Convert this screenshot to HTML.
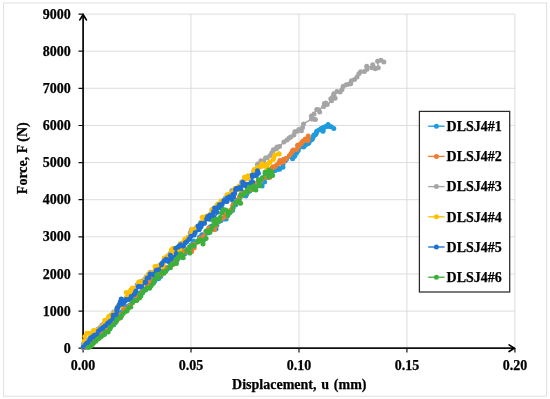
<!DOCTYPE html>
<html lang="en"><head><meta charset="utf-8"><title>Force vs Displacement</title>
<style>html,body{margin:0;padding:0;background:#fff}body{width:550px;height:399px;overflow:hidden}svg{display:block}text{font-family:"Liberation Serif",serif;font-weight:bold;font-size:14px;fill:#000;stroke:#000;stroke-width:0.25px}</style></head><body>
<svg width="550" height="399" viewBox="0 0 550 399">
<rect x="0" y="0" width="550" height="399" fill="#fff"/>
<rect x="3.5" y="3" width="543.1" height="393.2" fill="none" stroke="#E2E2E2" stroke-width="1.1"/>
<path d="M83.1 311.1H514.9M83.1 274.0H514.9M83.1 236.8H514.9M83.1 199.7H514.9M83.1 162.6H514.9M83.1 125.5H514.9M83.1 88.3H514.9M83.1 51.2H514.9M83.1 14.1H514.9M191.0 14.1V348.2M299.0 14.1V348.2M406.9 14.1V348.2M514.9 14.1V348.2" stroke="#D9D9D9" stroke-width="0.9" fill="none"/>
<path d="M78.5 348.2H83.1M78.5 311.1H83.1M78.5 274.0H83.1M78.5 236.8H83.1M78.5 199.7H83.1M78.5 162.6H83.1M78.5 125.5H83.1M78.5 88.3H83.1M78.5 51.2H83.1M78.5 14.1H83.1M83.1 348.2V352.6M191.0 348.2V352.6M299.0 348.2V352.6M406.9 348.2V352.6M514.9 348.2V352.6" stroke="#111" stroke-width="1.2" fill="none"/>
<path d="M83.1 14.6V348.2H514.4" stroke="#111" stroke-width="1.8" fill="none" stroke-linejoin="miter"/>
<path d="M79.8 19.9L83.1 14.7L86.4 19.9" stroke="#000" stroke-width="1.7" fill="none" stroke-linecap="round" stroke-linejoin="miter"/>
<path d="M509.1 344.9L514.3 348.2L509.1 351.5" stroke="#000" stroke-width="1.7" fill="none" stroke-linecap="round" stroke-linejoin="miter"/>
<g fill="#1E9BDC" stroke="none"><path d="M83.3 347.7L85.2 347.4L86.5 346.4L88.4 344.4L89.4 343.9L90.9 342.9L93.1 341.1L93.3 340.5L95.6 339.1L96.6 339.1L98.1 338.1L99.1 337.0L100.5 335.9L102.5 333.7L104.4 334.2L105.8 331.7L107.9 327.9L108.0 326.4L110.2 324.4L112.0 324.3L113.8 324.7L115.0 322.8L115.7 319.3L117.8 317.7L120.5 317.5L121.0 314.9L120.7 312.3L123.3 310.3L124.0 308.3L127.1 306.6L129.5 305.3L132.2 302.8L133.7 297.9L134.7 296.4L136.5 296.2L137.8 294.4L138.8 293.5L141.6 291.3L143.6 290.4L145.6 290.0L147.0 284.4L149.1 286.8L149.9 284.5L150.4 281.8L152.6 280.5L153.0 281.7L154.3 281.7L155.0 280.4L158.5 278.7L158.9 278.0L160.7 276.5L161.6 273.7L163.1 270.6L166.4 268.3L166.7 267.8L167.2 269.2L170.4 265.8L172.4 264.2L173.2 261.0L175.3 262.9L177.0 260.5L180.0 257.3L181.7 255.6L181.0 251.3L183.7 252.2L184.9 253.8L186.3 251.8L189.3 251.5L189.2 247.1L191.4 247.8L191.6 244.8L193.5 241.1L193.8 243.7L197.6 241.8L199.4 239.4L199.4 237.3L201.8 234.7L202.5 235.1L207.1 231.0L207.8 233.0L209.9 231.0L209.8 227.0L211.8 226.0L213.3 226.4L216.0 229.0L216.8 225.3L217.2 221.5L218.7 221.6L220.7 220.8L221.2 220.0L224.4 219.0L226.2 219.0L225.6 215.6L226.5 216.1L228.4 213.7L228.6 211.6L232.5 210.6L233.1 205.3L235.5 205.0L235.8 202.8L237.6 200.3L238.4 200.9L239.7 202.9L242.0 196.0L243.3 195.6L245.8 195.9L246.7 194.1L249.7 190.9L249.8 190.6L250.7 189.7L251.3 187.7L252.7 187.7L255.9 187.1L259.0 185.7L259.5 184.8L260.3 184.7L262.1 186.0L264.6 182.0L266.2 177.6L267.7 174.8L268.1 176.8L271.8 173.1L270.6 174.1L272.9 171.0L275.1 170.5L275.9 169.3L277.7 169.2L279.0 168.3L279.6 169.3L282.9 167.3L282.9 164.4L285.2 160.8L286.2 159.0L286.5 159.1L290.3 156.6L292.5 158.8L294.4 156.4L295.2 154.9L296.8 152.6L298.2 150.6L302.9 146.6L302.9 146.4L303.5 147.0L304.3 146.0L306.1 144.4L307.9 143.4L308.8 143.1L309.3 141.5L311.0 140.0L312.3 139.2L313.2 136.9L313.8 134.9L315.4 134.7L316.3 133.3L316.7 131.2L318.9 129.9L321.1 128.6L322.7 130.6L323.0 131.2L323.3 129.1L323.7 127.3L326.1 126.6L326.3 126.4L328.1 124.6L329.4 126.4L331.3 126.7L333.8 128.6" fill="none" stroke="#1E9BDC" stroke-width="1.5" stroke-linejoin="round"/>
<circle cx="83.3" cy="347.7" r="2.5"/><circle cx="85.2" cy="347.4" r="2.5"/><circle cx="86.5" cy="346.4" r="2.5"/><circle cx="88.4" cy="344.4" r="2.5"/><circle cx="89.4" cy="343.9" r="2.5"/><circle cx="90.9" cy="342.9" r="2.5"/><circle cx="93.1" cy="341.1" r="2.5"/><circle cx="93.3" cy="340.5" r="2.5"/><circle cx="95.6" cy="339.1" r="2.5"/><circle cx="96.6" cy="339.1" r="2.5"/><circle cx="98.1" cy="338.1" r="2.5"/><circle cx="99.1" cy="337.0" r="2.5"/><circle cx="100.5" cy="335.9" r="2.5"/><circle cx="102.5" cy="333.7" r="2.5"/><circle cx="104.4" cy="334.2" r="2.5"/><circle cx="105.8" cy="331.7" r="2.5"/><circle cx="107.9" cy="327.9" r="2.5"/><circle cx="108.0" cy="326.4" r="2.5"/><circle cx="110.2" cy="324.4" r="2.5"/><circle cx="112.0" cy="324.3" r="2.5"/><circle cx="113.8" cy="324.7" r="2.5"/><circle cx="115.0" cy="322.8" r="2.5"/><circle cx="115.7" cy="319.3" r="2.5"/><circle cx="117.8" cy="317.7" r="2.5"/><circle cx="120.5" cy="317.5" r="2.5"/><circle cx="121.0" cy="314.9" r="2.5"/><circle cx="120.7" cy="312.3" r="2.5"/><circle cx="123.3" cy="310.3" r="2.5"/><circle cx="124.0" cy="308.3" r="2.5"/><circle cx="127.1" cy="306.6" r="2.5"/><circle cx="129.5" cy="305.3" r="2.5"/><circle cx="132.2" cy="302.8" r="2.5"/><circle cx="133.7" cy="297.9" r="2.5"/><circle cx="134.7" cy="296.4" r="2.5"/><circle cx="136.5" cy="296.2" r="2.5"/><circle cx="137.8" cy="294.4" r="2.5"/><circle cx="138.8" cy="293.5" r="2.5"/><circle cx="141.6" cy="291.3" r="2.5"/><circle cx="143.6" cy="290.4" r="2.5"/><circle cx="145.6" cy="290.0" r="2.5"/><circle cx="147.0" cy="284.4" r="2.5"/><circle cx="149.1" cy="286.8" r="2.5"/><circle cx="149.9" cy="284.5" r="2.5"/><circle cx="150.4" cy="281.8" r="2.5"/><circle cx="152.6" cy="280.5" r="2.5"/><circle cx="153.0" cy="281.7" r="2.5"/><circle cx="154.3" cy="281.7" r="2.5"/><circle cx="155.0" cy="280.4" r="2.5"/><circle cx="158.5" cy="278.7" r="2.5"/><circle cx="158.9" cy="278.0" r="2.5"/><circle cx="160.7" cy="276.5" r="2.5"/><circle cx="161.6" cy="273.7" r="2.5"/><circle cx="163.1" cy="270.6" r="2.5"/><circle cx="166.4" cy="268.3" r="2.5"/><circle cx="166.7" cy="267.8" r="2.5"/><circle cx="167.2" cy="269.2" r="2.5"/><circle cx="170.4" cy="265.8" r="2.5"/><circle cx="172.4" cy="264.2" r="2.5"/><circle cx="173.2" cy="261.0" r="2.5"/><circle cx="175.3" cy="262.9" r="2.5"/><circle cx="177.0" cy="260.5" r="2.5"/><circle cx="180.0" cy="257.3" r="2.5"/><circle cx="181.7" cy="255.6" r="2.5"/><circle cx="181.0" cy="251.3" r="2.5"/><circle cx="183.7" cy="252.2" r="2.5"/><circle cx="184.9" cy="253.8" r="2.5"/><circle cx="186.3" cy="251.8" r="2.5"/><circle cx="189.3" cy="251.5" r="2.5"/><circle cx="189.2" cy="247.1" r="2.5"/><circle cx="191.4" cy="247.8" r="2.5"/><circle cx="191.6" cy="244.8" r="2.5"/><circle cx="193.5" cy="241.1" r="2.5"/><circle cx="193.8" cy="243.7" r="2.5"/><circle cx="197.6" cy="241.8" r="2.5"/><circle cx="199.4" cy="239.4" r="2.5"/><circle cx="199.4" cy="237.3" r="2.5"/><circle cx="201.8" cy="234.7" r="2.5"/><circle cx="202.5" cy="235.1" r="2.5"/><circle cx="207.1" cy="231.0" r="2.5"/><circle cx="207.8" cy="233.0" r="2.5"/><circle cx="209.9" cy="231.0" r="2.5"/><circle cx="209.8" cy="227.0" r="2.5"/><circle cx="211.8" cy="226.0" r="2.5"/><circle cx="213.3" cy="226.4" r="2.5"/><circle cx="216.0" cy="229.0" r="2.5"/><circle cx="216.8" cy="225.3" r="2.5"/><circle cx="217.2" cy="221.5" r="2.5"/><circle cx="218.7" cy="221.6" r="2.5"/><circle cx="220.7" cy="220.8" r="2.5"/><circle cx="221.2" cy="220.0" r="2.5"/><circle cx="224.4" cy="219.0" r="2.5"/><circle cx="226.2" cy="219.0" r="2.5"/><circle cx="225.6" cy="215.6" r="2.5"/><circle cx="226.5" cy="216.1" r="2.5"/><circle cx="228.4" cy="213.7" r="2.5"/><circle cx="228.6" cy="211.6" r="2.5"/><circle cx="232.5" cy="210.6" r="2.5"/><circle cx="233.1" cy="205.3" r="2.5"/><circle cx="235.5" cy="205.0" r="2.5"/><circle cx="235.8" cy="202.8" r="2.5"/><circle cx="237.6" cy="200.3" r="2.5"/><circle cx="238.4" cy="200.9" r="2.5"/><circle cx="239.7" cy="202.9" r="2.5"/><circle cx="242.0" cy="196.0" r="2.5"/><circle cx="243.3" cy="195.6" r="2.5"/><circle cx="245.8" cy="195.9" r="2.5"/><circle cx="246.7" cy="194.1" r="2.5"/><circle cx="249.7" cy="190.9" r="2.5"/><circle cx="249.8" cy="190.6" r="2.5"/><circle cx="250.7" cy="189.7" r="2.5"/><circle cx="251.3" cy="187.7" r="2.5"/><circle cx="252.7" cy="187.7" r="2.5"/><circle cx="255.9" cy="187.1" r="2.5"/><circle cx="259.0" cy="185.7" r="2.5"/><circle cx="259.5" cy="184.8" r="2.5"/><circle cx="260.3" cy="184.7" r="2.5"/><circle cx="262.1" cy="186.0" r="2.5"/><circle cx="264.6" cy="182.0" r="2.5"/><circle cx="266.2" cy="177.6" r="2.5"/><circle cx="267.7" cy="174.8" r="2.5"/><circle cx="268.1" cy="176.8" r="2.5"/><circle cx="271.8" cy="173.1" r="2.5"/><circle cx="270.6" cy="174.1" r="2.5"/><circle cx="272.9" cy="171.0" r="2.5"/><circle cx="275.1" cy="170.5" r="2.5"/><circle cx="275.9" cy="169.3" r="2.5"/><circle cx="277.7" cy="169.2" r="2.5"/><circle cx="279.0" cy="168.3" r="2.5"/><circle cx="279.6" cy="169.3" r="2.5"/><circle cx="282.9" cy="167.3" r="2.5"/><circle cx="282.9" cy="164.4" r="2.5"/><circle cx="285.2" cy="160.8" r="2.5"/><circle cx="286.2" cy="159.0" r="2.5"/><circle cx="286.5" cy="159.1" r="2.5"/><circle cx="290.3" cy="156.6" r="2.5"/><circle cx="292.5" cy="158.8" r="2.5"/><circle cx="294.4" cy="156.4" r="2.5"/><circle cx="295.2" cy="154.9" r="2.5"/><circle cx="296.8" cy="152.6" r="2.5"/><circle cx="298.2" cy="150.6" r="2.5"/><circle cx="302.9" cy="146.6" r="2.5"/><circle cx="302.9" cy="146.4" r="2.5"/><circle cx="303.5" cy="147.0" r="2.5"/><circle cx="304.3" cy="146.0" r="2.5"/><circle cx="306.1" cy="144.4" r="2.5"/><circle cx="307.9" cy="143.4" r="2.5"/><circle cx="308.8" cy="143.1" r="2.5"/><circle cx="309.3" cy="141.5" r="2.5"/><circle cx="311.0" cy="140.0" r="2.5"/><circle cx="312.3" cy="139.2" r="2.5"/><circle cx="313.2" cy="136.9" r="2.5"/><circle cx="313.8" cy="134.9" r="2.5"/><circle cx="315.4" cy="134.7" r="2.5"/><circle cx="316.3" cy="133.3" r="2.5"/><circle cx="316.7" cy="131.2" r="2.5"/><circle cx="318.9" cy="129.9" r="2.5"/><circle cx="321.1" cy="128.6" r="2.5"/><circle cx="322.7" cy="130.6" r="2.5"/><circle cx="323.0" cy="131.2" r="2.5"/><circle cx="323.3" cy="129.1" r="2.5"/><circle cx="323.7" cy="127.3" r="2.5"/><circle cx="326.1" cy="126.6" r="2.5"/><circle cx="326.3" cy="126.4" r="2.5"/><circle cx="328.1" cy="124.6" r="2.5"/><circle cx="329.4" cy="126.4" r="2.5"/><circle cx="331.3" cy="126.7" r="2.5"/><circle cx="333.8" cy="128.6" r="2.5"/>
</g>
<g fill="#ED7D31" stroke="none"><path d="M83.3 347.5L84.8 346.9L86.1 346.1L87.6 344.3L88.8 343.3L91.8 342.6L92.4 341.4L94.0 340.8L94.6 339.7L96.5 339.0L97.6 337.5L99.8 336.4L100.9 335.3L102.9 333.1L103.7 331.3L106.9 331.4L107.8 329.6L110.5 327.1L111.3 324.1L113.4 323.7L116.2 320.7L117.1 317.7L119.1 318.5L120.2 314.7L121.8 315.5L123.9 311.4L123.8 308.8L128.9 306.8L129.8 306.0L132.5 302.5L132.8 301.8L131.9 303.0L135.4 299.1L136.4 300.0L138.5 296.1L139.1 296.5L141.5 293.0L143.1 290.7L144.5 289.3L147.0 286.8L147.2 285.4L149.3 282.4L151.1 282.3L153.1 278.0L154.3 275.0L156.6 276.0L158.6 275.9L159.1 273.6L161.8 274.0L162.7 271.6L164.7 270.2L165.7 269.7L164.7 268.4L170.1 265.8L171.0 264.3L173.2 264.6L173.1 259.8L175.9 260.8L176.0 259.9L177.5 257.5L177.4 257.9L179.4 255.9L183.3 253.2L182.2 252.0L183.5 251.6L187.0 251.8L185.0 251.6L188.2 248.7L191.6 251.5L190.7 248.1L194.1 247.9L194.0 244.5L197.0 242.3L198.1 241.1L200.1 238.6L199.7 239.0L203.0 236.9L204.5 235.7L205.8 231.7L207.9 231.0L208.7 228.0L211.1 229.5L214.4 229.7L215.4 225.9L215.6 224.0L216.9 223.2L219.6 218.6L221.4 218.5L222.7 217.9L225.8 216.4L225.4 215.1L227.0 214.4L229.9 210.7L231.3 209.6L232.7 206.1L233.6 202.8L238.0 202.6L238.7 200.5L237.6 200.7L239.3 196.9L241.3 196.1L241.4 191.2L245.0 192.8L247.4 189.5L247.6 188.9L250.9 189.6L252.1 187.7L254.4 183.5L256.3 183.7L258.9 181.0L260.7 180.8L262.0 178.7L265.3 176.7L266.0 177.2L268.2 176.6L269.7 177.6L269.8 172.6L271.9 168.1L273.3 166.8L274.6 167.0L276.7 165.0L278.8 163.0L279.9 160.6L281.0 163.0L283.5 161.5L283.6 159.3L286.0 158.5L286.1 158.7L289.4 155.6L291.2 153.3L292.5 151.0L293.2 150.1L296.5 149.4L297.6 145.2L298.3 146.4L298.9 145.1L300.9 143.9L302.0 142.3L303.1 140.9L305.3 139.1L306.8 139.9L307.9 140.4L308.2 138.2L308.3 136.1" fill="none" stroke="#ED7D31" stroke-width="1.5" stroke-linejoin="round"/>
<circle cx="83.3" cy="347.5" r="2.5"/><circle cx="84.8" cy="346.9" r="2.5"/><circle cx="86.1" cy="346.1" r="2.5"/><circle cx="87.6" cy="344.3" r="2.5"/><circle cx="88.8" cy="343.3" r="2.5"/><circle cx="91.8" cy="342.6" r="2.5"/><circle cx="92.4" cy="341.4" r="2.5"/><circle cx="94.0" cy="340.8" r="2.5"/><circle cx="94.6" cy="339.7" r="2.5"/><circle cx="96.5" cy="339.0" r="2.5"/><circle cx="97.6" cy="337.5" r="2.5"/><circle cx="99.8" cy="336.4" r="2.5"/><circle cx="100.9" cy="335.3" r="2.5"/><circle cx="102.9" cy="333.1" r="2.5"/><circle cx="103.7" cy="331.3" r="2.5"/><circle cx="106.9" cy="331.4" r="2.5"/><circle cx="107.8" cy="329.6" r="2.5"/><circle cx="110.5" cy="327.1" r="2.5"/><circle cx="111.3" cy="324.1" r="2.5"/><circle cx="113.4" cy="323.7" r="2.5"/><circle cx="116.2" cy="320.7" r="2.5"/><circle cx="117.1" cy="317.7" r="2.5"/><circle cx="119.1" cy="318.5" r="2.5"/><circle cx="120.2" cy="314.7" r="2.5"/><circle cx="121.8" cy="315.5" r="2.5"/><circle cx="123.9" cy="311.4" r="2.5"/><circle cx="123.8" cy="308.8" r="2.5"/><circle cx="128.9" cy="306.8" r="2.5"/><circle cx="129.8" cy="306.0" r="2.5"/><circle cx="132.5" cy="302.5" r="2.5"/><circle cx="132.8" cy="301.8" r="2.5"/><circle cx="131.9" cy="303.0" r="2.5"/><circle cx="135.4" cy="299.1" r="2.5"/><circle cx="136.4" cy="300.0" r="2.5"/><circle cx="138.5" cy="296.1" r="2.5"/><circle cx="139.1" cy="296.5" r="2.5"/><circle cx="141.5" cy="293.0" r="2.5"/><circle cx="143.1" cy="290.7" r="2.5"/><circle cx="144.5" cy="289.3" r="2.5"/><circle cx="147.0" cy="286.8" r="2.5"/><circle cx="147.2" cy="285.4" r="2.5"/><circle cx="149.3" cy="282.4" r="2.5"/><circle cx="151.1" cy="282.3" r="2.5"/><circle cx="153.1" cy="278.0" r="2.5"/><circle cx="154.3" cy="275.0" r="2.5"/><circle cx="156.6" cy="276.0" r="2.5"/><circle cx="158.6" cy="275.9" r="2.5"/><circle cx="159.1" cy="273.6" r="2.5"/><circle cx="161.8" cy="274.0" r="2.5"/><circle cx="162.7" cy="271.6" r="2.5"/><circle cx="164.7" cy="270.2" r="2.5"/><circle cx="165.7" cy="269.7" r="2.5"/><circle cx="164.7" cy="268.4" r="2.5"/><circle cx="170.1" cy="265.8" r="2.5"/><circle cx="171.0" cy="264.3" r="2.5"/><circle cx="173.2" cy="264.6" r="2.5"/><circle cx="173.1" cy="259.8" r="2.5"/><circle cx="175.9" cy="260.8" r="2.5"/><circle cx="176.0" cy="259.9" r="2.5"/><circle cx="177.5" cy="257.5" r="2.5"/><circle cx="177.4" cy="257.9" r="2.5"/><circle cx="179.4" cy="255.9" r="2.5"/><circle cx="183.3" cy="253.2" r="2.5"/><circle cx="182.2" cy="252.0" r="2.5"/><circle cx="183.5" cy="251.6" r="2.5"/><circle cx="187.0" cy="251.8" r="2.5"/><circle cx="185.0" cy="251.6" r="2.5"/><circle cx="188.2" cy="248.7" r="2.5"/><circle cx="191.6" cy="251.5" r="2.5"/><circle cx="190.7" cy="248.1" r="2.5"/><circle cx="194.1" cy="247.9" r="2.5"/><circle cx="194.0" cy="244.5" r="2.5"/><circle cx="197.0" cy="242.3" r="2.5"/><circle cx="198.1" cy="241.1" r="2.5"/><circle cx="200.1" cy="238.6" r="2.5"/><circle cx="199.7" cy="239.0" r="2.5"/><circle cx="203.0" cy="236.9" r="2.5"/><circle cx="204.5" cy="235.7" r="2.5"/><circle cx="205.8" cy="231.7" r="2.5"/><circle cx="207.9" cy="231.0" r="2.5"/><circle cx="208.7" cy="228.0" r="2.5"/><circle cx="211.1" cy="229.5" r="2.5"/><circle cx="214.4" cy="229.7" r="2.5"/><circle cx="215.4" cy="225.9" r="2.5"/><circle cx="215.6" cy="224.0" r="2.5"/><circle cx="216.9" cy="223.2" r="2.5"/><circle cx="219.6" cy="218.6" r="2.5"/><circle cx="221.4" cy="218.5" r="2.5"/><circle cx="222.7" cy="217.9" r="2.5"/><circle cx="225.8" cy="216.4" r="2.5"/><circle cx="225.4" cy="215.1" r="2.5"/><circle cx="227.0" cy="214.4" r="2.5"/><circle cx="229.9" cy="210.7" r="2.5"/><circle cx="231.3" cy="209.6" r="2.5"/><circle cx="232.7" cy="206.1" r="2.5"/><circle cx="233.6" cy="202.8" r="2.5"/><circle cx="238.0" cy="202.6" r="2.5"/><circle cx="238.7" cy="200.5" r="2.5"/><circle cx="237.6" cy="200.7" r="2.5"/><circle cx="239.3" cy="196.9" r="2.5"/><circle cx="241.3" cy="196.1" r="2.5"/><circle cx="241.4" cy="191.2" r="2.5"/><circle cx="245.0" cy="192.8" r="2.5"/><circle cx="247.4" cy="189.5" r="2.5"/><circle cx="247.6" cy="188.9" r="2.5"/><circle cx="250.9" cy="189.6" r="2.5"/><circle cx="252.1" cy="187.7" r="2.5"/><circle cx="254.4" cy="183.5" r="2.5"/><circle cx="256.3" cy="183.7" r="2.5"/><circle cx="258.9" cy="181.0" r="2.5"/><circle cx="260.7" cy="180.8" r="2.5"/><circle cx="262.0" cy="178.7" r="2.5"/><circle cx="265.3" cy="176.7" r="2.5"/><circle cx="266.0" cy="177.2" r="2.5"/><circle cx="268.2" cy="176.6" r="2.5"/><circle cx="269.7" cy="177.6" r="2.5"/><circle cx="269.8" cy="172.6" r="2.5"/><circle cx="271.9" cy="168.1" r="2.5"/><circle cx="273.3" cy="166.8" r="2.5"/><circle cx="274.6" cy="167.0" r="2.5"/><circle cx="276.7" cy="165.0" r="2.5"/><circle cx="278.8" cy="163.0" r="2.5"/><circle cx="279.9" cy="160.6" r="2.5"/><circle cx="281.0" cy="163.0" r="2.5"/><circle cx="283.5" cy="161.5" r="2.5"/><circle cx="283.6" cy="159.3" r="2.5"/><circle cx="286.0" cy="158.5" r="2.5"/><circle cx="286.1" cy="158.7" r="2.5"/><circle cx="289.4" cy="155.6" r="2.5"/><circle cx="291.2" cy="153.3" r="2.5"/><circle cx="292.5" cy="151.0" r="2.5"/><circle cx="293.2" cy="150.1" r="2.5"/><circle cx="296.5" cy="149.4" r="2.5"/><circle cx="297.6" cy="145.2" r="2.5"/><circle cx="298.3" cy="146.4" r="2.5"/><circle cx="298.9" cy="145.1" r="2.5"/><circle cx="300.9" cy="143.9" r="2.5"/><circle cx="302.0" cy="142.3" r="2.5"/><circle cx="303.1" cy="140.9" r="2.5"/><circle cx="305.3" cy="139.1" r="2.5"/><circle cx="306.8" cy="139.9" r="2.5"/><circle cx="307.9" cy="140.4" r="2.5"/><circle cx="308.2" cy="138.2" r="2.5"/><circle cx="308.3" cy="136.1" r="2.5"/>
</g>
<g fill="#A5A5A5" stroke="none"><path d="M83.3 344.0L84.4 342.9L86.4 341.2L87.2 340.0L88.8 339.4L90.7 336.4L92.0 334.6L94.8 332.6L96.0 331.3L97.6 329.3L100.0 327.5L101.8 325.3L103.9 323.4L105.1 322.7L106.2 322.4L107.7 319.5L108.8 317.8L112.6 314.8L113.7 312.1L117.2 309.8L117.5 307.9L119.1 304.7L122.0 303.3L122.0 300.3L122.5 299.7L126.0 299.9L125.8 298.5L129.1 295.1L130.2 293.1L132.6 291.9L133.1 290.3L135.0 288.8L137.4 286.4L137.0 284.8L138.8 283.5L141.2 281.3L144.1 279.9L145.1 278.7L146.2 277.1L147.2 276.7L148.5 274.3L150.2 272.3L153.3 272.2L155.5 269.9L155.7 268.0L157.4 266.2L159.2 265.7L162.6 264.1L163.1 261.7L165.4 260.0L166.7 258.6L167.3 256.2L170.1 256.4L170.0 253.6L172.7 250.6L174.9 250.7L176.6 250.3L177.3 248.1L180.2 244.6L181.6 243.9L182.4 242.9L185.4 240.3L189.4 237.3L191.0 233.5L190.2 232.7L191.3 229.8L193.5 229.8L194.8 228.9L197.3 229.4L199.9 225.2L201.5 222.5L200.8 222.4L201.0 222.2L204.2 220.7L205.1 218.3L208.4 216.4L210.8 215.2L212.8 213.7L211.9 209.8L214.1 208.3L214.9 208.6L218.1 207.0L219.2 205.5L221.4 203.4L222.4 201.3L223.4 200.7L225.8 197.9L225.3 198.1L228.6 195.9L228.3 195.1L231.4 192.6L231.8 190.6L233.2 190.7L236.0 189.8L238.6 188.6L240.8 186.7L242.0 183.4L241.6 182.1L243.0 181.4L245.3 178.3L248.6 176.7L249.6 177.9L250.0 178.2L251.8 175.4L255.0 172.1L256.7 170.4L257.4 165.0L257.8 164.1L260.3 163.6L260.9 160.7L263.4 161.7L263.6 160.9L265.5 158.1L267.2 157.7L270.1 155.6L271.8 152.8L272.5 152.7L273.4 149.8L277.0 147.9L275.8 148.9L277.0 147.1L279.5 146.4L283.9 142.0L287.0 140.1L289.1 137.9L290.8 137.0L293.9 135.1L294.8 131.7L297.1 131.3L298.9 129.4L301.4 130.7L302.6 127.5L303.5 123.9L311.4 119.1L313.7 119.0L315.4 119.6L311.4 116.1L314.0 113.9L316.7 109.5L319.7 112.1L318.6 109.8L323.7 106.4L324.4 103.6L325.9 102.9L327.2 104.6L331.6 100.7L330.8 98.7L332.9 96.8L335.1 98.2L333.9 95.8L333.8 93.8L336.9 91.6L340.1 91.9L342.0 89.4L343.2 86.3L346.3 84.8L349.2 83.9L350.7 83.8L351.4 80.7L354.5 79.4L357.0 76.9L358.9 73.8L360.6 71.8L364.4 71.4L367.0 69.2L366.7 66.2L371.9 67.7L372.7 64.7L373.9 67.5L375.3 68.8L378.3 67.7L377.6 61.3L380.9 60.2L383.9 62.0" fill="none" stroke="#A5A5A5" stroke-width="1.5" stroke-linejoin="round"/>
<circle cx="83.3" cy="344.0" r="2.5"/><circle cx="84.4" cy="342.9" r="2.5"/><circle cx="86.4" cy="341.2" r="2.5"/><circle cx="87.2" cy="340.0" r="2.5"/><circle cx="88.8" cy="339.4" r="2.5"/><circle cx="90.7" cy="336.4" r="2.5"/><circle cx="92.0" cy="334.6" r="2.5"/><circle cx="94.8" cy="332.6" r="2.5"/><circle cx="96.0" cy="331.3" r="2.5"/><circle cx="97.6" cy="329.3" r="2.5"/><circle cx="100.0" cy="327.5" r="2.5"/><circle cx="101.8" cy="325.3" r="2.5"/><circle cx="103.9" cy="323.4" r="2.5"/><circle cx="105.1" cy="322.7" r="2.5"/><circle cx="106.2" cy="322.4" r="2.5"/><circle cx="107.7" cy="319.5" r="2.5"/><circle cx="108.8" cy="317.8" r="2.5"/><circle cx="112.6" cy="314.8" r="2.5"/><circle cx="113.7" cy="312.1" r="2.5"/><circle cx="117.2" cy="309.8" r="2.5"/><circle cx="117.5" cy="307.9" r="2.5"/><circle cx="119.1" cy="304.7" r="2.5"/><circle cx="122.0" cy="303.3" r="2.5"/><circle cx="122.0" cy="300.3" r="2.5"/><circle cx="122.5" cy="299.7" r="2.5"/><circle cx="126.0" cy="299.9" r="2.5"/><circle cx="125.8" cy="298.5" r="2.5"/><circle cx="129.1" cy="295.1" r="2.5"/><circle cx="130.2" cy="293.1" r="2.5"/><circle cx="132.6" cy="291.9" r="2.5"/><circle cx="133.1" cy="290.3" r="2.5"/><circle cx="135.0" cy="288.8" r="2.5"/><circle cx="137.4" cy="286.4" r="2.5"/><circle cx="137.0" cy="284.8" r="2.5"/><circle cx="138.8" cy="283.5" r="2.5"/><circle cx="141.2" cy="281.3" r="2.5"/><circle cx="144.1" cy="279.9" r="2.5"/><circle cx="145.1" cy="278.7" r="2.5"/><circle cx="146.2" cy="277.1" r="2.5"/><circle cx="147.2" cy="276.7" r="2.5"/><circle cx="148.5" cy="274.3" r="2.5"/><circle cx="150.2" cy="272.3" r="2.5"/><circle cx="153.3" cy="272.2" r="2.5"/><circle cx="155.5" cy="269.9" r="2.5"/><circle cx="155.7" cy="268.0" r="2.5"/><circle cx="157.4" cy="266.2" r="2.5"/><circle cx="159.2" cy="265.7" r="2.5"/><circle cx="162.6" cy="264.1" r="2.5"/><circle cx="163.1" cy="261.7" r="2.5"/><circle cx="165.4" cy="260.0" r="2.5"/><circle cx="166.7" cy="258.6" r="2.5"/><circle cx="167.3" cy="256.2" r="2.5"/><circle cx="170.1" cy="256.4" r="2.5"/><circle cx="170.0" cy="253.6" r="2.5"/><circle cx="172.7" cy="250.6" r="2.5"/><circle cx="174.9" cy="250.7" r="2.5"/><circle cx="176.6" cy="250.3" r="2.5"/><circle cx="177.3" cy="248.1" r="2.5"/><circle cx="180.2" cy="244.6" r="2.5"/><circle cx="181.6" cy="243.9" r="2.5"/><circle cx="182.4" cy="242.9" r="2.5"/><circle cx="185.4" cy="240.3" r="2.5"/><circle cx="189.4" cy="237.3" r="2.5"/><circle cx="191.0" cy="233.5" r="2.5"/><circle cx="190.2" cy="232.7" r="2.5"/><circle cx="191.3" cy="229.8" r="2.5"/><circle cx="193.5" cy="229.8" r="2.5"/><circle cx="194.8" cy="228.9" r="2.5"/><circle cx="197.3" cy="229.4" r="2.5"/><circle cx="199.9" cy="225.2" r="2.5"/><circle cx="201.5" cy="222.5" r="2.5"/><circle cx="200.8" cy="222.4" r="2.5"/><circle cx="201.0" cy="222.2" r="2.5"/><circle cx="204.2" cy="220.7" r="2.5"/><circle cx="205.1" cy="218.3" r="2.5"/><circle cx="208.4" cy="216.4" r="2.5"/><circle cx="210.8" cy="215.2" r="2.5"/><circle cx="212.8" cy="213.7" r="2.5"/><circle cx="211.9" cy="209.8" r="2.5"/><circle cx="214.1" cy="208.3" r="2.5"/><circle cx="214.9" cy="208.6" r="2.5"/><circle cx="218.1" cy="207.0" r="2.5"/><circle cx="219.2" cy="205.5" r="2.5"/><circle cx="221.4" cy="203.4" r="2.5"/><circle cx="222.4" cy="201.3" r="2.5"/><circle cx="223.4" cy="200.7" r="2.5"/><circle cx="225.8" cy="197.9" r="2.5"/><circle cx="225.3" cy="198.1" r="2.5"/><circle cx="228.6" cy="195.9" r="2.5"/><circle cx="228.3" cy="195.1" r="2.5"/><circle cx="231.4" cy="192.6" r="2.5"/><circle cx="231.8" cy="190.6" r="2.5"/><circle cx="233.2" cy="190.7" r="2.5"/><circle cx="236.0" cy="189.8" r="2.5"/><circle cx="238.6" cy="188.6" r="2.5"/><circle cx="240.8" cy="186.7" r="2.5"/><circle cx="242.0" cy="183.4" r="2.5"/><circle cx="241.6" cy="182.1" r="2.5"/><circle cx="243.0" cy="181.4" r="2.5"/><circle cx="245.3" cy="178.3" r="2.5"/><circle cx="248.6" cy="176.7" r="2.5"/><circle cx="249.6" cy="177.9" r="2.5"/><circle cx="250.0" cy="178.2" r="2.5"/><circle cx="251.8" cy="175.4" r="2.5"/><circle cx="255.0" cy="172.1" r="2.5"/><circle cx="256.7" cy="170.4" r="2.5"/><circle cx="257.4" cy="165.0" r="2.5"/><circle cx="257.8" cy="164.1" r="2.5"/><circle cx="260.3" cy="163.6" r="2.5"/><circle cx="260.9" cy="160.7" r="2.5"/><circle cx="263.4" cy="161.7" r="2.5"/><circle cx="263.6" cy="160.9" r="2.5"/><circle cx="265.5" cy="158.1" r="2.5"/><circle cx="267.2" cy="157.7" r="2.5"/><circle cx="270.1" cy="155.6" r="2.5"/><circle cx="271.8" cy="152.8" r="2.5"/><circle cx="272.5" cy="152.7" r="2.5"/><circle cx="273.4" cy="149.8" r="2.5"/><circle cx="277.0" cy="147.9" r="2.5"/><circle cx="275.8" cy="148.9" r="2.5"/><circle cx="277.0" cy="147.1" r="2.5"/><circle cx="279.5" cy="146.4" r="2.5"/><circle cx="283.9" cy="142.0" r="2.5"/><circle cx="287.0" cy="140.1" r="2.5"/><circle cx="289.1" cy="137.9" r="2.5"/><circle cx="290.8" cy="137.0" r="2.5"/><circle cx="293.9" cy="135.1" r="2.5"/><circle cx="294.8" cy="131.7" r="2.5"/><circle cx="297.1" cy="131.3" r="2.5"/><circle cx="298.9" cy="129.4" r="2.5"/><circle cx="301.4" cy="130.7" r="2.5"/><circle cx="302.6" cy="127.5" r="2.5"/><circle cx="303.5" cy="123.9" r="2.5"/><circle cx="311.4" cy="119.1" r="2.5"/><circle cx="313.7" cy="119.0" r="2.5"/><circle cx="315.4" cy="119.6" r="2.5"/><circle cx="311.4" cy="116.1" r="2.5"/><circle cx="314.0" cy="113.9" r="2.5"/><circle cx="316.7" cy="109.5" r="2.5"/><circle cx="319.7" cy="112.1" r="2.5"/><circle cx="318.6" cy="109.8" r="2.5"/><circle cx="323.7" cy="106.4" r="2.5"/><circle cx="324.4" cy="103.6" r="2.5"/><circle cx="325.9" cy="102.9" r="2.5"/><circle cx="327.2" cy="104.6" r="2.5"/><circle cx="331.6" cy="100.7" r="2.5"/><circle cx="330.8" cy="98.7" r="2.5"/><circle cx="332.9" cy="96.8" r="2.5"/><circle cx="335.1" cy="98.2" r="2.5"/><circle cx="333.9" cy="95.8" r="2.5"/><circle cx="333.8" cy="93.8" r="2.5"/><circle cx="336.9" cy="91.6" r="2.5"/><circle cx="340.1" cy="91.9" r="2.5"/><circle cx="342.0" cy="89.4" r="2.5"/><circle cx="343.2" cy="86.3" r="2.5"/><circle cx="346.3" cy="84.8" r="2.5"/><circle cx="349.2" cy="83.9" r="2.5"/><circle cx="350.7" cy="83.8" r="2.5"/><circle cx="351.4" cy="80.7" r="2.5"/><circle cx="354.5" cy="79.4" r="2.5"/><circle cx="357.0" cy="76.9" r="2.5"/><circle cx="358.9" cy="73.8" r="2.5"/><circle cx="360.6" cy="71.8" r="2.5"/><circle cx="364.4" cy="71.4" r="2.5"/><circle cx="367.0" cy="69.2" r="2.5"/><circle cx="366.7" cy="66.2" r="2.5"/><circle cx="371.9" cy="67.7" r="2.5"/><circle cx="372.7" cy="64.7" r="2.5"/><circle cx="373.9" cy="67.5" r="2.5"/><circle cx="375.3" cy="68.8" r="2.5"/><circle cx="378.3" cy="67.7" r="2.5"/><circle cx="377.6" cy="61.3" r="2.5"/><circle cx="380.9" cy="60.2" r="2.5"/><circle cx="383.9" cy="62.0" r="2.5"/>
</g>
<g fill="#FFC000" stroke="none"><path d="M83.3 346.5L84.2 341.0L85.0 336.5L86.8 333.3L89.3 333.2L91.5 333.8L93.5 330.5L95.5 330.9L96.8 330.3L97.2 331.6L101.1 328.3L101.7 326.7L101.8 328.1L104.0 324.5L104.8 320.2L107.7 319.5L108.7 316.4L110.9 315.0L112.2 314.7L113.7 314.3L115.6 311.5L117.4 306.7L120.7 304.5L120.5 306.3L121.2 301.0L122.8 301.7L125.5 300.4L126.8 296.5L126.3 292.5L128.3 295.5L129.6 292.5L132.3 292.6L130.6 289.9L132.3 288.1L137.9 286.5L138.7 282.0L138.6 283.8L140.7 282.1L141.8 283.1L143.1 282.3L145.5 278.5L145.9 279.7L147.3 277.9L147.9 275.5L149.4 273.3L152.4 273.6L155.0 266.4L156.1 267.9L156.5 266.5L157.3 266.5L159.9 265.1L162.3 264.2L162.3 266.7L163.3 264.0L164.1 258.0L167.4 256.0L167.2 258.2L171.8 253.2L171.4 249.7L173.2 248.2L174.6 252.5L176.3 253.7L179.0 251.8L179.4 249.7L181.8 247.0L180.3 243.4L183.6 245.5L184.3 242.1L184.8 239.2L187.8 237.3L191.7 232.5L192.2 229.2L193.3 232.3L193.7 231.3L196.9 226.7L197.5 229.3L199.9 227.1L200.1 224.0L202.3 217.3L204.0 221.0L205.2 216.7L207.0 216.0L210.1 214.8L212.2 209.7L212.2 211.3L213.8 208.5L214.6 210.4L217.4 207.3L216.9 205.5L220.8 204.9L217.8 204.1L221.1 200.9L223.0 201.9L227.4 197.5L227.0 194.7L227.9 195.1L230.9 194.1L231.2 193.2L234.7 189.2L235.0 188.4L236.5 188.7L239.2 185.9L239.8 189.7L240.0 186.0L244.7 183.8L244.4 177.2L247.2 178.7L247.7 175.8L250.1 176.0L253.6 171.3L254.3 169.6L257.4 167.7L258.0 168.1L259.3 167.0L261.5 166.6L262.0 163.8L264.2 165.5L266.7 167.4L267.4 164.3L269.7 161.9L269.7 162.8L273.1 159.5L273.7 158.3L274.8 155.1L279.1 153.9L278.8 153.8" fill="none" stroke="#FFC000" stroke-width="1.5" stroke-linejoin="round"/>
<circle cx="83.3" cy="346.5" r="2.5"/><circle cx="84.2" cy="341.0" r="2.5"/><circle cx="85.0" cy="336.5" r="2.5"/><circle cx="86.8" cy="333.3" r="2.5"/><circle cx="89.3" cy="333.2" r="2.5"/><circle cx="91.5" cy="333.8" r="2.5"/><circle cx="93.5" cy="330.5" r="2.5"/><circle cx="95.5" cy="330.9" r="2.5"/><circle cx="96.8" cy="330.3" r="2.5"/><circle cx="97.2" cy="331.6" r="2.5"/><circle cx="101.1" cy="328.3" r="2.5"/><circle cx="101.7" cy="326.7" r="2.5"/><circle cx="101.8" cy="328.1" r="2.5"/><circle cx="104.0" cy="324.5" r="2.5"/><circle cx="104.8" cy="320.2" r="2.5"/><circle cx="107.7" cy="319.5" r="2.5"/><circle cx="108.7" cy="316.4" r="2.5"/><circle cx="110.9" cy="315.0" r="2.5"/><circle cx="112.2" cy="314.7" r="2.5"/><circle cx="113.7" cy="314.3" r="2.5"/><circle cx="115.6" cy="311.5" r="2.5"/><circle cx="117.4" cy="306.7" r="2.5"/><circle cx="120.7" cy="304.5" r="2.5"/><circle cx="120.5" cy="306.3" r="2.5"/><circle cx="121.2" cy="301.0" r="2.5"/><circle cx="122.8" cy="301.7" r="2.5"/><circle cx="125.5" cy="300.4" r="2.5"/><circle cx="126.8" cy="296.5" r="2.5"/><circle cx="126.3" cy="292.5" r="2.5"/><circle cx="128.3" cy="295.5" r="2.5"/><circle cx="129.6" cy="292.5" r="2.5"/><circle cx="132.3" cy="292.6" r="2.5"/><circle cx="130.6" cy="289.9" r="2.5"/><circle cx="132.3" cy="288.1" r="2.5"/><circle cx="137.9" cy="286.5" r="2.5"/><circle cx="138.7" cy="282.0" r="2.5"/><circle cx="138.6" cy="283.8" r="2.5"/><circle cx="140.7" cy="282.1" r="2.5"/><circle cx="141.8" cy="283.1" r="2.5"/><circle cx="143.1" cy="282.3" r="2.5"/><circle cx="145.5" cy="278.5" r="2.5"/><circle cx="145.9" cy="279.7" r="2.5"/><circle cx="147.3" cy="277.9" r="2.5"/><circle cx="147.9" cy="275.5" r="2.5"/><circle cx="149.4" cy="273.3" r="2.5"/><circle cx="152.4" cy="273.6" r="2.5"/><circle cx="155.0" cy="266.4" r="2.5"/><circle cx="156.1" cy="267.9" r="2.5"/><circle cx="156.5" cy="266.5" r="2.5"/><circle cx="157.3" cy="266.5" r="2.5"/><circle cx="159.9" cy="265.1" r="2.5"/><circle cx="162.3" cy="264.2" r="2.5"/><circle cx="162.3" cy="266.7" r="2.5"/><circle cx="163.3" cy="264.0" r="2.5"/><circle cx="164.1" cy="258.0" r="2.5"/><circle cx="167.4" cy="256.0" r="2.5"/><circle cx="167.2" cy="258.2" r="2.5"/><circle cx="171.8" cy="253.2" r="2.5"/><circle cx="171.4" cy="249.7" r="2.5"/><circle cx="173.2" cy="248.2" r="2.5"/><circle cx="174.6" cy="252.5" r="2.5"/><circle cx="176.3" cy="253.7" r="2.5"/><circle cx="179.0" cy="251.8" r="2.5"/><circle cx="179.4" cy="249.7" r="2.5"/><circle cx="181.8" cy="247.0" r="2.5"/><circle cx="180.3" cy="243.4" r="2.5"/><circle cx="183.6" cy="245.5" r="2.5"/><circle cx="184.3" cy="242.1" r="2.5"/><circle cx="184.8" cy="239.2" r="2.5"/><circle cx="187.8" cy="237.3" r="2.5"/><circle cx="191.7" cy="232.5" r="2.5"/><circle cx="192.2" cy="229.2" r="2.5"/><circle cx="193.3" cy="232.3" r="2.5"/><circle cx="193.7" cy="231.3" r="2.5"/><circle cx="196.9" cy="226.7" r="2.5"/><circle cx="197.5" cy="229.3" r="2.5"/><circle cx="199.9" cy="227.1" r="2.5"/><circle cx="200.1" cy="224.0" r="2.5"/><circle cx="202.3" cy="217.3" r="2.5"/><circle cx="204.0" cy="221.0" r="2.5"/><circle cx="205.2" cy="216.7" r="2.5"/><circle cx="207.0" cy="216.0" r="2.5"/><circle cx="210.1" cy="214.8" r="2.5"/><circle cx="212.2" cy="209.7" r="2.5"/><circle cx="212.2" cy="211.3" r="2.5"/><circle cx="213.8" cy="208.5" r="2.5"/><circle cx="214.6" cy="210.4" r="2.5"/><circle cx="217.4" cy="207.3" r="2.5"/><circle cx="216.9" cy="205.5" r="2.5"/><circle cx="220.8" cy="204.9" r="2.5"/><circle cx="217.8" cy="204.1" r="2.5"/><circle cx="221.1" cy="200.9" r="2.5"/><circle cx="223.0" cy="201.9" r="2.5"/><circle cx="227.4" cy="197.5" r="2.5"/><circle cx="227.0" cy="194.7" r="2.5"/><circle cx="227.9" cy="195.1" r="2.5"/><circle cx="230.9" cy="194.1" r="2.5"/><circle cx="231.2" cy="193.2" r="2.5"/><circle cx="234.7" cy="189.2" r="2.5"/><circle cx="235.0" cy="188.4" r="2.5"/><circle cx="236.5" cy="188.7" r="2.5"/><circle cx="239.2" cy="185.9" r="2.5"/><circle cx="239.8" cy="189.7" r="2.5"/><circle cx="240.0" cy="186.0" r="2.5"/><circle cx="244.7" cy="183.8" r="2.5"/><circle cx="244.4" cy="177.2" r="2.5"/><circle cx="247.2" cy="178.7" r="2.5"/><circle cx="247.7" cy="175.8" r="2.5"/><circle cx="250.1" cy="176.0" r="2.5"/><circle cx="253.6" cy="171.3" r="2.5"/><circle cx="254.3" cy="169.6" r="2.5"/><circle cx="257.4" cy="167.7" r="2.5"/><circle cx="258.0" cy="168.1" r="2.5"/><circle cx="259.3" cy="167.0" r="2.5"/><circle cx="261.5" cy="166.6" r="2.5"/><circle cx="262.0" cy="163.8" r="2.5"/><circle cx="264.2" cy="165.5" r="2.5"/><circle cx="266.7" cy="167.4" r="2.5"/><circle cx="267.4" cy="164.3" r="2.5"/><circle cx="269.7" cy="161.9" r="2.5"/><circle cx="269.7" cy="162.8" r="2.5"/><circle cx="273.1" cy="159.5" r="2.5"/><circle cx="273.7" cy="158.3" r="2.5"/><circle cx="274.8" cy="155.1" r="2.5"/><circle cx="279.1" cy="153.9" r="2.5"/><circle cx="278.8" cy="153.8" r="2.5"/>
</g>
<g fill="#1F70D0" stroke="none"><path d="M83.3 346.8L85.8 343.9L87.5 342.7L89.8 340.0L90.7 338.1L92.6 337.2L93.1 336.3L94.4 335.3L95.4 335.3L97.0 334.4L98.5 330.9L100.8 329.3L102.2 328.4L102.9 327.4L105.2 325.7L107.7 323.2L109.1 322.5L110.3 321.2L113.0 318.4L113.1 315.2L116.1 314.7L116.8 310.9L116.9 308.4L117.8 307.5L119.2 304.8L120.3 301.8L121.2 298.9L122.4 301.6L121.6 304.2L123.4 303.4L124.9 301.2L126.0 299.4L128.5 299.6L130.6 299.3L131.2 296.5L134.3 294.3L135.8 291.3L139.1 286.5L138.6 286.5L138.3 286.8L141.6 286.7L145.1 282.0L145.7 282.4L147.1 278.2L148.9 277.6L150.1 274.1L153.7 275.1L154.3 273.7L156.4 270.3L158.6 269.8L161.6 264.7L161.8 263.4L164.3 260.8L166.0 259.2L168.3 261.5L168.7 260.0L170.7 258.9L170.4 255.2L171.6 258.2L174.8 256.9L176.3 253.6L175.7 248.3L178.2 247.0L179.3 246.0L180.5 244.8L183.4 246.3L185.1 243.1L186.6 241.8L189.1 238.9L189.3 239.2L190.9 236.3L194.1 235.1L195.2 232.5L198.9 229.8L199.2 229.2L198.0 226.0L201.1 225.4L200.7 223.6L201.0 226.7L203.4 223.2L204.5 223.3L206.6 218.9L207.9 216.5L207.7 217.9L209.6 219.3L211.5 217.6L210.0 215.0L213.0 216.1L213.6 211.8L214.4 219.7L217.1 212.2L214.6 207.9L217.7 207.7L218.8 206.8L219.0 207.4L219.3 204.8L220.6 206.4L221.8 208.3L222.2 203.9L224.0 200.4L225.4 201.3L227.0 201.5L227.2 198.1L229.0 197.9L229.4 196.7L231.8 199.6L232.8 194.5L233.6 197.3L234.7 193.5L235.5 189.5L236.5 188.2L237.7 189.0L239.6 187.6L240.8 188.9L242.9 184.8L242.8 182.2L244.7 185.3L244.9 184.2L245.9 186.0L247.6 184.5L248.0 184.4L250.9 182.8L251.6 183.6L252.3 175.1L252.6 181.9L252.5 176.5L256.4 174.3L256.2 175.7L258.4 173.3L257.5 170.7" fill="none" stroke="#1F70D0" stroke-width="1.5" stroke-linejoin="round"/>
<circle cx="83.3" cy="346.8" r="2.5"/><circle cx="85.8" cy="343.9" r="2.5"/><circle cx="87.5" cy="342.7" r="2.5"/><circle cx="89.8" cy="340.0" r="2.5"/><circle cx="90.7" cy="338.1" r="2.5"/><circle cx="92.6" cy="337.2" r="2.5"/><circle cx="93.1" cy="336.3" r="2.5"/><circle cx="94.4" cy="335.3" r="2.5"/><circle cx="95.4" cy="335.3" r="2.5"/><circle cx="97.0" cy="334.4" r="2.5"/><circle cx="98.5" cy="330.9" r="2.5"/><circle cx="100.8" cy="329.3" r="2.5"/><circle cx="102.2" cy="328.4" r="2.5"/><circle cx="102.9" cy="327.4" r="2.5"/><circle cx="105.2" cy="325.7" r="2.5"/><circle cx="107.7" cy="323.2" r="2.5"/><circle cx="109.1" cy="322.5" r="2.5"/><circle cx="110.3" cy="321.2" r="2.5"/><circle cx="113.0" cy="318.4" r="2.5"/><circle cx="113.1" cy="315.2" r="2.5"/><circle cx="116.1" cy="314.7" r="2.5"/><circle cx="116.8" cy="310.9" r="2.5"/><circle cx="116.9" cy="308.4" r="2.5"/><circle cx="117.8" cy="307.5" r="2.5"/><circle cx="119.2" cy="304.8" r="2.5"/><circle cx="120.3" cy="301.8" r="2.5"/><circle cx="121.2" cy="298.9" r="2.5"/><circle cx="122.4" cy="301.6" r="2.5"/><circle cx="121.6" cy="304.2" r="2.5"/><circle cx="123.4" cy="303.4" r="2.5"/><circle cx="124.9" cy="301.2" r="2.5"/><circle cx="126.0" cy="299.4" r="2.5"/><circle cx="128.5" cy="299.6" r="2.5"/><circle cx="130.6" cy="299.3" r="2.5"/><circle cx="131.2" cy="296.5" r="2.5"/><circle cx="134.3" cy="294.3" r="2.5"/><circle cx="135.8" cy="291.3" r="2.5"/><circle cx="139.1" cy="286.5" r="2.5"/><circle cx="138.6" cy="286.5" r="2.5"/><circle cx="138.3" cy="286.8" r="2.5"/><circle cx="141.6" cy="286.7" r="2.5"/><circle cx="145.1" cy="282.0" r="2.5"/><circle cx="145.7" cy="282.4" r="2.5"/><circle cx="147.1" cy="278.2" r="2.5"/><circle cx="148.9" cy="277.6" r="2.5"/><circle cx="150.1" cy="274.1" r="2.5"/><circle cx="153.7" cy="275.1" r="2.5"/><circle cx="154.3" cy="273.7" r="2.5"/><circle cx="156.4" cy="270.3" r="2.5"/><circle cx="158.6" cy="269.8" r="2.5"/><circle cx="161.6" cy="264.7" r="2.5"/><circle cx="161.8" cy="263.4" r="2.5"/><circle cx="164.3" cy="260.8" r="2.5"/><circle cx="166.0" cy="259.2" r="2.5"/><circle cx="168.3" cy="261.5" r="2.5"/><circle cx="168.7" cy="260.0" r="2.5"/><circle cx="170.7" cy="258.9" r="2.5"/><circle cx="170.4" cy="255.2" r="2.5"/><circle cx="171.6" cy="258.2" r="2.5"/><circle cx="174.8" cy="256.9" r="2.5"/><circle cx="176.3" cy="253.6" r="2.5"/><circle cx="175.7" cy="248.3" r="2.5"/><circle cx="178.2" cy="247.0" r="2.5"/><circle cx="179.3" cy="246.0" r="2.5"/><circle cx="180.5" cy="244.8" r="2.5"/><circle cx="183.4" cy="246.3" r="2.5"/><circle cx="185.1" cy="243.1" r="2.5"/><circle cx="186.6" cy="241.8" r="2.5"/><circle cx="189.1" cy="238.9" r="2.5"/><circle cx="189.3" cy="239.2" r="2.5"/><circle cx="190.9" cy="236.3" r="2.5"/><circle cx="194.1" cy="235.1" r="2.5"/><circle cx="195.2" cy="232.5" r="2.5"/><circle cx="198.9" cy="229.8" r="2.5"/><circle cx="199.2" cy="229.2" r="2.5"/><circle cx="198.0" cy="226.0" r="2.5"/><circle cx="201.1" cy="225.4" r="2.5"/><circle cx="200.7" cy="223.6" r="2.5"/><circle cx="201.0" cy="226.7" r="2.5"/><circle cx="203.4" cy="223.2" r="2.5"/><circle cx="204.5" cy="223.3" r="2.5"/><circle cx="206.6" cy="218.9" r="2.5"/><circle cx="207.9" cy="216.5" r="2.5"/><circle cx="207.7" cy="217.9" r="2.5"/><circle cx="209.6" cy="219.3" r="2.5"/><circle cx="211.5" cy="217.6" r="2.5"/><circle cx="210.0" cy="215.0" r="2.5"/><circle cx="213.0" cy="216.1" r="2.5"/><circle cx="213.6" cy="211.8" r="2.5"/><circle cx="214.4" cy="219.7" r="2.5"/><circle cx="217.1" cy="212.2" r="2.5"/><circle cx="214.6" cy="207.9" r="2.5"/><circle cx="217.7" cy="207.7" r="2.5"/><circle cx="218.8" cy="206.8" r="2.5"/><circle cx="219.0" cy="207.4" r="2.5"/><circle cx="219.3" cy="204.8" r="2.5"/><circle cx="220.6" cy="206.4" r="2.5"/><circle cx="221.8" cy="208.3" r="2.5"/><circle cx="222.2" cy="203.9" r="2.5"/><circle cx="224.0" cy="200.4" r="2.5"/><circle cx="225.4" cy="201.3" r="2.5"/><circle cx="227.0" cy="201.5" r="2.5"/><circle cx="227.2" cy="198.1" r="2.5"/><circle cx="229.0" cy="197.9" r="2.5"/><circle cx="229.4" cy="196.7" r="2.5"/><circle cx="231.8" cy="199.6" r="2.5"/><circle cx="232.8" cy="194.5" r="2.5"/><circle cx="233.6" cy="197.3" r="2.5"/><circle cx="234.7" cy="193.5" r="2.5"/><circle cx="235.5" cy="189.5" r="2.5"/><circle cx="236.5" cy="188.2" r="2.5"/><circle cx="237.7" cy="189.0" r="2.5"/><circle cx="239.6" cy="187.6" r="2.5"/><circle cx="240.8" cy="188.9" r="2.5"/><circle cx="242.9" cy="184.8" r="2.5"/><circle cx="242.8" cy="182.2" r="2.5"/><circle cx="244.7" cy="185.3" r="2.5"/><circle cx="244.9" cy="184.2" r="2.5"/><circle cx="245.9" cy="186.0" r="2.5"/><circle cx="247.6" cy="184.5" r="2.5"/><circle cx="248.0" cy="184.4" r="2.5"/><circle cx="250.9" cy="182.8" r="2.5"/><circle cx="251.6" cy="183.6" r="2.5"/><circle cx="252.3" cy="175.1" r="2.5"/><circle cx="252.6" cy="181.9" r="2.5"/><circle cx="252.5" cy="176.5" r="2.5"/><circle cx="256.4" cy="174.3" r="2.5"/><circle cx="256.2" cy="175.7" r="2.5"/><circle cx="258.4" cy="173.3" r="2.5"/><circle cx="257.5" cy="170.7" r="2.5"/>
</g>
<g fill="#3DB03C" stroke="none"><path d="M88.5 347.6L90.8 346.2L92.6 344.2L93.6 342.8L95.8 341.3L97.7 339.0L98.8 338.5L100.7 336.9L102.4 335.6L104.0 334.5L105.5 332.0L108.2 332.1L109.8 329.0L110.6 327.3L112.9 324.9L116.0 322.1L116.9 319.5L117.1 319.9L120.6 317.4L121.0 316.0L123.2 313.4L125.6 311.6L127.1 310.7L128.6 307.9L130.8 306.9L132.3 302.6L134.6 300.8L136.8 300.4L139.9 294.3L139.5 298.1L140.9 295.9L142.5 293.0L144.2 290.2L145.5 289.2L147.2 287.9L149.6 288.2L151.2 285.8L153.2 283.5L153.9 280.5L156.0 278.8L158.9 277.3L156.8 274.7L161.8 273.1L162.9 272.0L164.0 273.2L165.3 271.4L165.8 270.9L169.7 266.6L170.4 267.7L171.7 263.9L173.3 263.8L176.4 263.5L176.1 259.3L177.9 258.6L178.5 256.9L180.3 253.8L182.2 255.2L183.2 257.8L186.8 250.1L189.9 253.1L191.0 245.7L193.4 245.6L190.6 247.4L194.2 245.8L198.7 241.5L197.8 241.0L197.8 241.0L200.7 239.7L203.0 244.1L203.6 240.2L206.1 238.4L206.2 231.0L208.3 231.3L209.9 232.6L211.4 229.1L213.0 225.8L213.0 220.3L216.0 224.1L215.9 219.2L219.0 221.2L220.0 217.5L221.5 213.1L222.5 211.4L223.2 209.5L225.8 209.9L227.8 215.4L228.2 211.7L230.2 212.6L233.1 208.0L235.1 203.2L235.6 202.5L238.1 200.8L240.6 203.2L240.6 195.1L244.7 192.6L243.7 194.6L248.1 192.0L246.8 191.1L249.1 187.3L253.1 189.2L253.7 185.7L255.9 189.9L258.4 179.8L258.9 181.3L259.8 185.8L260.5 180.0L262.3 177.7L265.0 173.5L265.2 172.1L268.6 177.1L268.9 170.1L269.6 176.3L272.6 175.6L271.9 172.0" fill="none" stroke="#3DB03C" stroke-width="1.5" stroke-linejoin="round"/>
<circle cx="88.5" cy="347.6" r="2.5"/><circle cx="90.8" cy="346.2" r="2.5"/><circle cx="92.6" cy="344.2" r="2.5"/><circle cx="93.6" cy="342.8" r="2.5"/><circle cx="95.8" cy="341.3" r="2.5"/><circle cx="97.7" cy="339.0" r="2.5"/><circle cx="98.8" cy="338.5" r="2.5"/><circle cx="100.7" cy="336.9" r="2.5"/><circle cx="102.4" cy="335.6" r="2.5"/><circle cx="104.0" cy="334.5" r="2.5"/><circle cx="105.5" cy="332.0" r="2.5"/><circle cx="108.2" cy="332.1" r="2.5"/><circle cx="109.8" cy="329.0" r="2.5"/><circle cx="110.6" cy="327.3" r="2.5"/><circle cx="112.9" cy="324.9" r="2.5"/><circle cx="116.0" cy="322.1" r="2.5"/><circle cx="116.9" cy="319.5" r="2.5"/><circle cx="117.1" cy="319.9" r="2.5"/><circle cx="120.6" cy="317.4" r="2.5"/><circle cx="121.0" cy="316.0" r="2.5"/><circle cx="123.2" cy="313.4" r="2.5"/><circle cx="125.6" cy="311.6" r="2.5"/><circle cx="127.1" cy="310.7" r="2.5"/><circle cx="128.6" cy="307.9" r="2.5"/><circle cx="130.8" cy="306.9" r="2.5"/><circle cx="132.3" cy="302.6" r="2.5"/><circle cx="134.6" cy="300.8" r="2.5"/><circle cx="136.8" cy="300.4" r="2.5"/><circle cx="139.9" cy="294.3" r="2.5"/><circle cx="139.5" cy="298.1" r="2.5"/><circle cx="140.9" cy="295.9" r="2.5"/><circle cx="142.5" cy="293.0" r="2.5"/><circle cx="144.2" cy="290.2" r="2.5"/><circle cx="145.5" cy="289.2" r="2.5"/><circle cx="147.2" cy="287.9" r="2.5"/><circle cx="149.6" cy="288.2" r="2.5"/><circle cx="151.2" cy="285.8" r="2.5"/><circle cx="153.2" cy="283.5" r="2.5"/><circle cx="153.9" cy="280.5" r="2.5"/><circle cx="156.0" cy="278.8" r="2.5"/><circle cx="158.9" cy="277.3" r="2.5"/><circle cx="156.8" cy="274.7" r="2.5"/><circle cx="161.8" cy="273.1" r="2.5"/><circle cx="162.9" cy="272.0" r="2.5"/><circle cx="164.0" cy="273.2" r="2.5"/><circle cx="165.3" cy="271.4" r="2.5"/><circle cx="165.8" cy="270.9" r="2.5"/><circle cx="169.7" cy="266.6" r="2.5"/><circle cx="170.4" cy="267.7" r="2.5"/><circle cx="171.7" cy="263.9" r="2.5"/><circle cx="173.3" cy="263.8" r="2.5"/><circle cx="176.4" cy="263.5" r="2.5"/><circle cx="176.1" cy="259.3" r="2.5"/><circle cx="177.9" cy="258.6" r="2.5"/><circle cx="178.5" cy="256.9" r="2.5"/><circle cx="180.3" cy="253.8" r="2.5"/><circle cx="182.2" cy="255.2" r="2.5"/><circle cx="183.2" cy="257.8" r="2.5"/><circle cx="186.8" cy="250.1" r="2.5"/><circle cx="189.9" cy="253.1" r="2.5"/><circle cx="191.0" cy="245.7" r="2.5"/><circle cx="193.4" cy="245.6" r="2.5"/><circle cx="190.6" cy="247.4" r="2.5"/><circle cx="194.2" cy="245.8" r="2.5"/><circle cx="198.7" cy="241.5" r="2.5"/><circle cx="197.8" cy="241.0" r="2.5"/><circle cx="197.8" cy="241.0" r="2.5"/><circle cx="200.7" cy="239.7" r="2.5"/><circle cx="203.0" cy="244.1" r="2.5"/><circle cx="203.6" cy="240.2" r="2.5"/><circle cx="206.1" cy="238.4" r="2.5"/><circle cx="206.2" cy="231.0" r="2.5"/><circle cx="208.3" cy="231.3" r="2.5"/><circle cx="209.9" cy="232.6" r="2.5"/><circle cx="211.4" cy="229.1" r="2.5"/><circle cx="213.0" cy="225.8" r="2.5"/><circle cx="213.0" cy="220.3" r="2.5"/><circle cx="216.0" cy="224.1" r="2.5"/><circle cx="215.9" cy="219.2" r="2.5"/><circle cx="219.0" cy="221.2" r="2.5"/><circle cx="220.0" cy="217.5" r="2.5"/><circle cx="221.5" cy="213.1" r="2.5"/><circle cx="222.5" cy="211.4" r="2.5"/><circle cx="223.2" cy="209.5" r="2.5"/><circle cx="225.8" cy="209.9" r="2.5"/><circle cx="227.8" cy="215.4" r="2.5"/><circle cx="228.2" cy="211.7" r="2.5"/><circle cx="230.2" cy="212.6" r="2.5"/><circle cx="233.1" cy="208.0" r="2.5"/><circle cx="235.1" cy="203.2" r="2.5"/><circle cx="235.6" cy="202.5" r="2.5"/><circle cx="238.1" cy="200.8" r="2.5"/><circle cx="240.6" cy="203.2" r="2.5"/><circle cx="240.6" cy="195.1" r="2.5"/><circle cx="244.7" cy="192.6" r="2.5"/><circle cx="243.7" cy="194.6" r="2.5"/><circle cx="248.1" cy="192.0" r="2.5"/><circle cx="246.8" cy="191.1" r="2.5"/><circle cx="249.1" cy="187.3" r="2.5"/><circle cx="253.1" cy="189.2" r="2.5"/><circle cx="253.7" cy="185.7" r="2.5"/><circle cx="255.9" cy="189.9" r="2.5"/><circle cx="258.4" cy="179.8" r="2.5"/><circle cx="258.9" cy="181.3" r="2.5"/><circle cx="259.8" cy="185.8" r="2.5"/><circle cx="260.5" cy="180.0" r="2.5"/><circle cx="262.3" cy="177.7" r="2.5"/><circle cx="265.0" cy="173.5" r="2.5"/><circle cx="265.2" cy="172.1" r="2.5"/><circle cx="268.6" cy="177.1" r="2.5"/><circle cx="268.9" cy="170.1" r="2.5"/><circle cx="269.6" cy="176.3" r="2.5"/><circle cx="272.6" cy="175.6" r="2.5"/><circle cx="271.9" cy="172.0" r="2.5"/>
</g>
<text x="70.8" y="352.8" text-anchor="end">0</text>
<text x="70.8" y="315.7" text-anchor="end">1000</text>
<text x="70.8" y="278.6" text-anchor="end">2000</text>
<text x="70.8" y="241.4" text-anchor="end">3000</text>
<text x="70.8" y="204.3" text-anchor="end">4000</text>
<text x="70.8" y="167.2" text-anchor="end">5000</text>
<text x="70.8" y="130.1" text-anchor="end">6000</text>
<text x="70.8" y="92.9" text-anchor="end">7000</text>
<text x="70.8" y="55.8" text-anchor="end">8000</text>
<text x="70.8" y="18.7" text-anchor="end">9000</text>
<text x="83.1" y="369.6" text-anchor="middle">0.00</text>
<text x="191.0" y="369.6" text-anchor="middle">0.05</text>
<text x="299.0" y="369.6" text-anchor="middle">0.10</text>
<text x="406.9" y="369.6" text-anchor="middle">0.15</text>
<text x="514.9" y="369.6" text-anchor="middle">0.20</text>
<text x="299.3" y="388.9" text-anchor="middle" word-spacing="1.3">Displacement, u (mm)</text>
<text transform="translate(27.2 158.2) rotate(-90)" text-anchor="middle">Force, F (N)</text>
<rect x="419.4" y="111.4" width="90.3" height="180.6" fill="#fff" stroke="#2a2a2a" stroke-width="1.25"/>
<path d="M428.2 126.2H444.6" stroke="#1E9BDC" stroke-width="1.35" fill="none"/><circle cx="436.4" cy="126.2" r="2.5" fill="#1E9BDC"/>
<text x="446.6" y="130.9">DLSJ4#1</text>
<path d="M428.2 156.4H444.6" stroke="#ED7D31" stroke-width="1.35" fill="none"/><circle cx="436.4" cy="156.4" r="2.5" fill="#ED7D31"/>
<text x="446.6" y="161.1">DLSJ4#2</text>
<path d="M428.2 186.6H444.6" stroke="#A5A5A5" stroke-width="1.35" fill="none"/><circle cx="436.4" cy="186.6" r="2.5" fill="#A5A5A5"/>
<text x="446.6" y="191.3">DLSJ4#3</text>
<path d="M428.2 216.8H444.6" stroke="#FFC000" stroke-width="1.35" fill="none"/><circle cx="436.4" cy="216.8" r="2.5" fill="#FFC000"/>
<text x="446.6" y="221.5">DLSJ4#4</text>
<path d="M428.2 247.0H444.6" stroke="#1F70D0" stroke-width="1.35" fill="none"/><circle cx="436.4" cy="247.0" r="2.5" fill="#1F70D0"/>
<text x="446.6" y="251.7">DLSJ4#5</text>
<path d="M428.2 277.2H444.6" stroke="#3DB03C" stroke-width="1.35" fill="none"/><circle cx="436.4" cy="277.2" r="2.5" fill="#3DB03C"/>
<text x="446.6" y="281.9">DLSJ4#6</text>
</svg></body></html>
